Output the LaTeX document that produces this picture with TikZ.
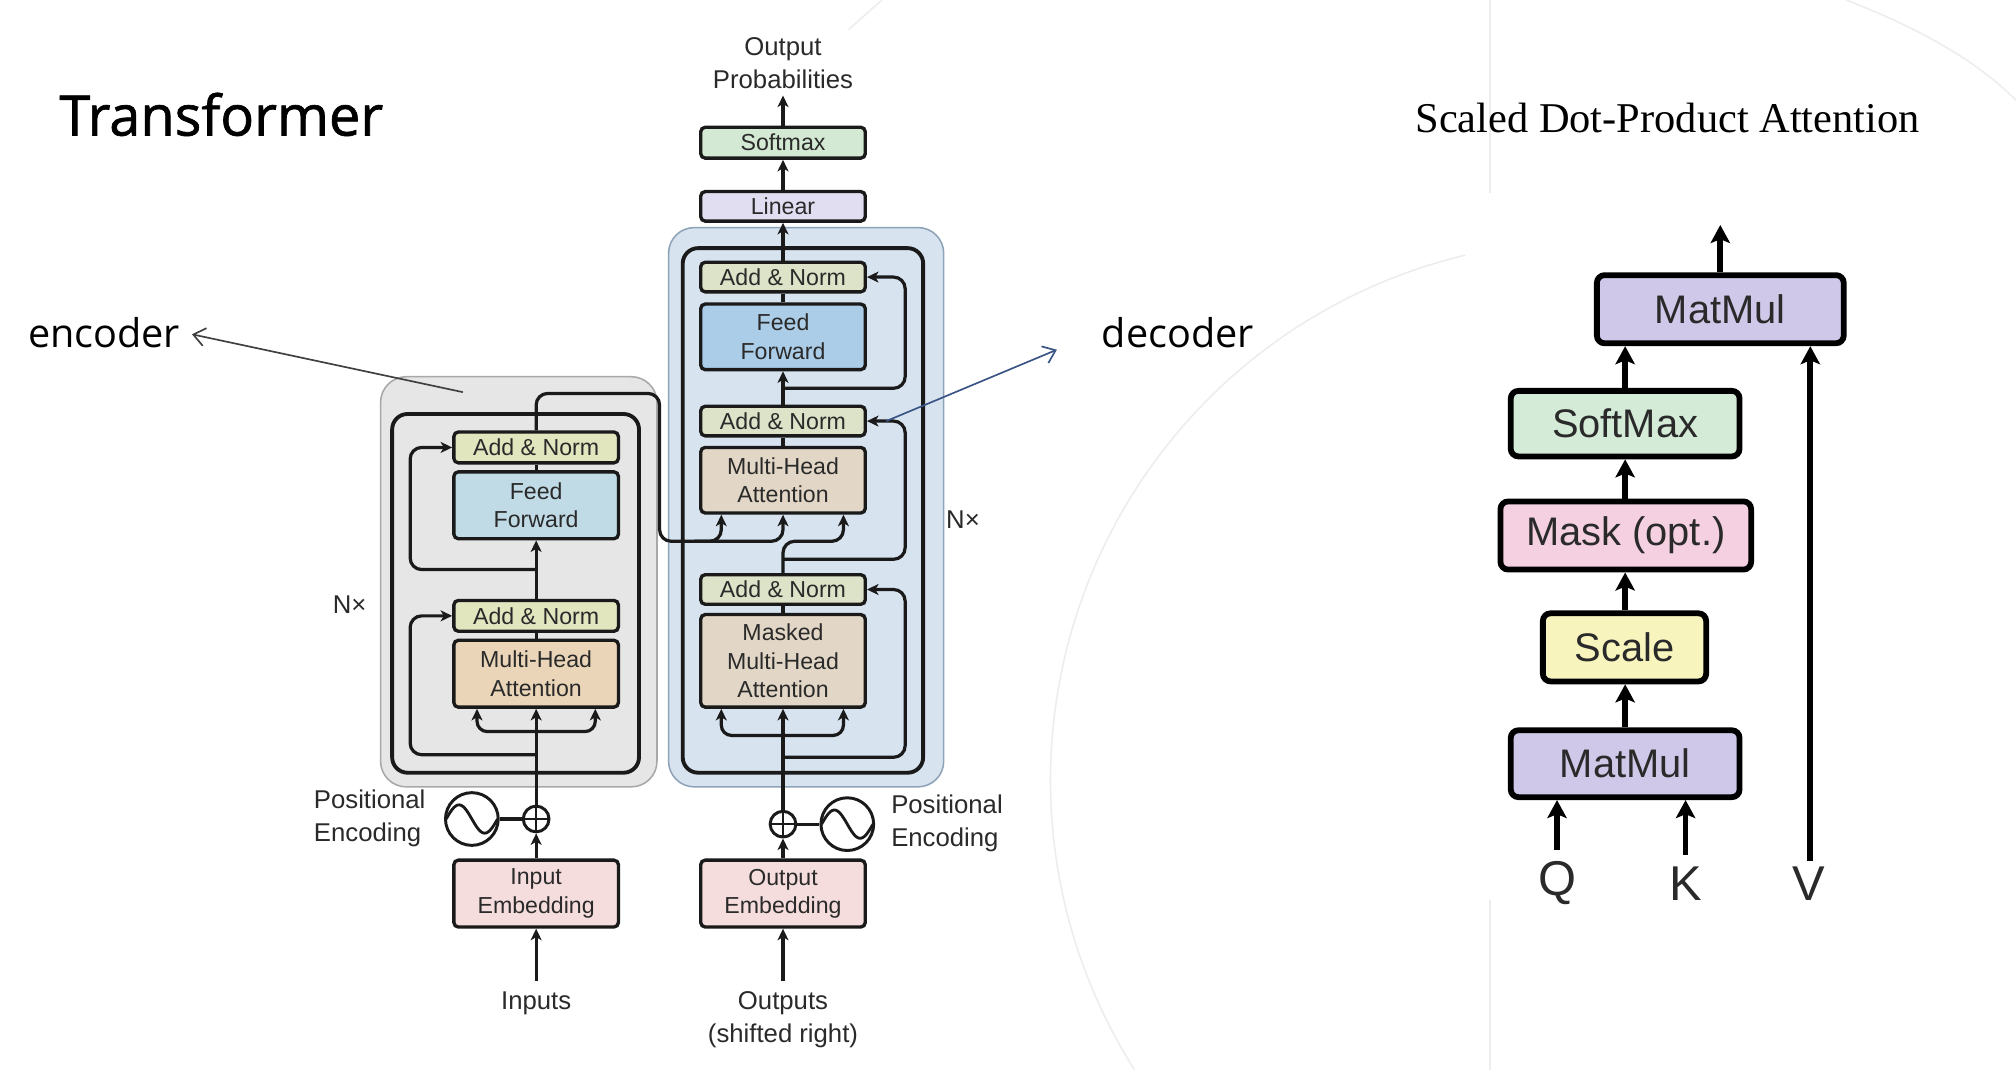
\documentclass[tikz,border=0pt]{standalone}
\usepackage{fontspec}
\setmainfont{Liberation Sans}
\newfontfamily\seriffont{Liberation Serif}
\newfontfamily\titlefont[FakeBold=1.2]{Open Sans}
\newfontfamily\pointfont{Open Sans}
\usetikzlibrary{arrows.meta}
\definecolor{lc}{HTML}{1A1A1A}
\definecolor{tc}{HTML}{2A2A2A}
\definecolor{anE}{HTML}{E2E6BF}
\definecolor{ffE}{HTML}{C0DAE6}
\definecolor{mhE}{HTML}{EAD5B8}
\definecolor{anD}{HTML}{DDE3C8}
\definecolor{ffD}{HTML}{ABCDE8}
\definecolor{mhD}{HTML}{E2D7C6}
\definecolor{embC}{HTML}{F5DDDD}
\definecolor{linC}{HTML}{E2DEF2}
\definecolor{smxC}{HTML}{D3E9D3}
\definecolor{encBg}{HTML}{E6E6E6}
\definecolor{encBd}{HTML}{A8A8A8}
\definecolor{decBg}{HTML}{D7E3EF}
\definecolor{decBd}{HTML}{8FA3B8}
\definecolor{mmC}{HTML}{D0C8E8}
\definecolor{smC}{HTML}{D3EBD7}
\definecolor{mkC}{HTML}{F4D0E1}
\definecolor{scC}{HTML}{F8F4BE}
\definecolor{ptrBlue}{HTML}{3A5585}
\begin{document}
\begin{tikzpicture}[x=1pt,y=-1pt,
 blk/.style={draw=lc, line width=2.6pt, rounded corners=3.5pt, minimum width=128pt, inner sep=0pt, text=tc, font=\fontsize{18}{22}\selectfont, align=center},
 ln/.style={draw=lc, line width=2.5pt, rounded corners=9pt},
 arr/.style={ln, -{Stealth[length=9pt,width=8.5pt,inset=2.5pt]}},
 lbl/.style={font=\fontsize{20}{26}\selectfont, text=tc, align=center, inner sep=0pt},
 circ/.style={draw=lc, line width=2.3pt, circle, inner sep=0pt},
 ablk/.style={draw=black, line width=4.5pt, rounded corners=6pt, minimum height=52pt, inner sep=0pt, text=tc, font=\fontsize{31}{36}\selectfont},
 aarr/.style={draw=black, line width=4.5pt, -{Stealth[length=14pt,width=15pt,inset=3pt]}},
 qkv/.style={font=\fontsize{38}{40}\selectfont, text=tc, inner sep=0pt},
 ptr/.style={line width=1.3pt, -{Straight Barb[length=9pt,width=14pt]}},
 faint/.style={draw=black!7, line width=1.2pt}
]
\useasboundingbox (0,0) rectangle (1568,832);
\fill[white] (0,0) rectangle (1568,832);

% faint background strokes
\draw[faint] plot[domain=147.6:256.6, samples=90] ({1237+420*cos(\x)},{607+420*sin(\x)});
\draw[faint] (1159,0) -- (1159,150);
\draw[faint] (1159,700) -- (1159,832);
\draw[faint] (1436,0) .. controls (1500,25) and (1540,50) .. (1568,78);
\draw[faint] (660,23) -- (686,0);

% titles
\node[font=\titlefont\fontsize{43.5}{48}\selectfont, anchor=west, inner sep=0pt] (title) at (46,89) {Transformer};
\node[font=\seriffont\fontsize{33}{36}\selectfont, inner sep=0pt] (atitle) at (1297,92) {Scaled Dot-Product Attention};
\node[font=\pointfont\fontsize{30.8}{34}\selectfont, inner sep=0pt] (encLbl) at (81,259) {encoder};
\node[font=\pointfont\fontsize{30.8}{34}\selectfont, inner sep=0pt] (decLbl) at (916,259) {decoder};

% outer boxes
\draw[fill=encBg, draw=encBd, line width=1.2pt, rounded corners=20pt] (296,293) rectangle (511,612);
\draw[draw=lc, line width=3pt, rounded corners=12pt] (305,322) rectangle (497,601);
\draw[fill=decBg, draw=decBd, line width=1.2pt, rounded corners=20pt] (520,177) rectangle (734,612);
\draw[draw=lc, line width=3pt, rounded corners=12pt] (531,193) rectangle (718,601);

% encoder blocks
\node[blk, fill=anE, minimum height=24pt] (encAN2) at (417,348) {Add \& Norm};
\node[blk, fill=ffE, minimum height=52pt] (encFF) at (417,393) {Feed\\Forward};
\node[blk, fill=anE, minimum height=24pt] (encAN1) at (417,479) {Add \& Norm};
\node[blk, fill=mhE, minimum height=52pt] (encMHA) at (417,524) {Multi-Head\\Attention};
\node[blk, fill=embC, minimum height=52pt] (inEmb) at (417,695) {Input\\Embedding};
\node[circ, minimum size=20pt] (encPlus) at (417,637) {};
\node[circ, minimum size=41pt] (encSin) at (367,637) {};
\draw[lc, line width=2pt] (encPlus.north) -- (encPlus.south) (encPlus.west) -- (encPlus.east);
\draw[lc, line width=2.2pt] plot[domain=-20:20, samples=40] ({367+\x},{637+11*sin(9*\x)});

% decoder blocks
\node[blk, fill=anD, minimum height=23pt] (decAN3) at (609,215.5) {Add \& Norm};
\node[blk, fill=ffD, minimum height=51pt] (decFF) at (609,262) {Feed\\Forward};
\node[blk, fill=anD, minimum height=23pt] (decAN2) at (609,327.5) {Add \& Norm};
\node[blk, fill=mhD, minimum height=51pt] (decMHA) at (609,373.5) {Multi-Head\\Attention};
\node[blk, fill=anD, minimum height=23pt] (decAN1) at (609,458.5) {Add \& Norm};
\node[blk, fill=mhD, minimum height=72pt] (decMMHA) at (609,514) {Masked\\Multi-Head\\Attention};
\node[blk, fill=embC, minimum height=52pt] (outEmb) at (609,695) {Output\\Embedding};
\node[blk, fill=linC, minimum height=23pt] (linear) at (609,160.5) {Linear};
\node[blk, fill=smxC, minimum height=24pt] (softmax) at (609,111) {Softmax};
\node[circ, minimum size=20pt] (decPlus) at (609,641) {};
\node[circ, minimum size=41pt] (decSin) at (659,641) {};
\draw[lc, line width=2pt] (decPlus.north) -- (decPlus.south) (decPlus.west) -- (decPlus.east);
\draw[lc, line width=2.2pt] plot[domain=-20:20, samples=40] ({659+\x},{641+11*sin(9*\x)});

% labels
\node[lbl] (outProb) at (609,49) {Output\\Probabilities};
\node[lbl] (inputs) at (417,780) {Inputs};
\node[lbl] (outputs) at (609,793) {Outputs\\(shifted right)};
\node[lbl, align=left, anchor=west] (encPE) at (244,636.5) {Positional\\Encoding};
\node[lbl, align=left, anchor=west] (decPE) at (693,640.5) {Positional\\Encoding};
\node[lbl] (encN) at (272,470) {N×};
\node[lbl] (decN) at (749,404) {N×};

% junction coordinates
\coordinate (eIn) at (417,569);
\coordinate (eR1) at (417,587);
\coordinate (eR2) at (417,443);
\coordinate (eTop) at (417,306);
\coordinate (eJ) at (540,421);
\coordinate (dIn) at (609,572);
\coordinate (dR1) at (609,589);
\coordinate (dR2) at (609,435);
\coordinate (dR3) at (609,302);

% encoder connectors
\draw[arr, shorten <=8pt] (inputs.north) -- (inEmb.south);
\draw[arr] (inEmb.north) -- (encPlus.south);
\draw[ln] (encSin.east) -- (encPlus.west);
\draw[arr] (encPlus.north) -- (encMHA.south);
\draw[arr, rounded corners=8pt] (eIn) -- (371,569) -- ([xshift=-46pt]encMHA.south);
\draw[arr, rounded corners=8pt] (eIn) -- (463,569) -- ([xshift=46pt]encMHA.south);
\draw[arr] (eR1) -- (319,587) -- (319,479) -- (encAN1.west);
\draw[ln] (encMHA.north) -- (encAN1.south);
\draw[arr] (encAN1.north) -- (encFF.south);
\draw[arr] (eR2) -- (319,443) -- (319,348) -- (encAN2.west);
\draw[ln] (encFF.north) -- (encAN2.south);
\draw[arr] (encAN2.north) -- (eTop) -- (513,306) -- (513,421) -- (561,421) -- ([xshift=-48pt]decMHA.south);
\draw[arr] (eJ) -- (609,421) -- (decMHA.south);

% decoder connectors
\draw[arr, shorten <=8pt] (outputs.north) -- (outEmb.south);
\draw[arr] (outEmb.north) -- (decPlus.south);
\draw[ln] (decSin.west) -- (decPlus.east);
\draw[arr] (decPlus.north) -- (decMMHA.south);
\draw[arr, rounded corners=8pt] (dIn) -- (561,572) -- ([xshift=-48pt]decMMHA.south);
\draw[arr, rounded corners=8pt] (dIn) -- (656,572) -- ([xshift=47pt]decMMHA.south);
\draw[arr] (dR1) -- (704,589) -- (704,458.5) -- (decAN1.east);
\draw[ln] (decMMHA.north) -- (decAN1.south);
\draw[arr] (decAN1.north) -- (609,421) -- (656,421) -- ([xshift=47pt]decMHA.south);
\draw[arr] (dR2) -- (704,435) -- (704,327.5) -- (decAN2.east);
\draw[ln] (decMHA.north) -- (decAN2.south);
\draw[arr] (decAN2.north) -- (decFF.south);
\draw[arr] (dR3) -- (704,302) -- (704,215.5) -- (decAN3.east);
\draw[ln] (decFF.north) -- (decAN3.south);
\draw[arr] (decAN3.north) -- (linear.south);
\draw[arr] (linear.north) -- (softmax.south);
\draw[arr, shorten >=5pt] (softmax.north) -- (outProb.south);

% pointers
\coordinate (encFrom) at (360,305);
\coordinate (decTip) at (822,272);
\draw[ptr, draw=black!75] (encFrom) -- ([xshift=9pt,yshift=-1pt]encLbl.east);
\draw[ptr, draw=ptrBlue] ([xshift=15pt]decAN2.east) -- (decTip);

% scaled dot-product attention
\node[ablk, fill=mmC, minimum width=192pt, minimum height=53pt] (aMM2) at (1338,240.5) {MatMul};
\node[ablk, fill=smC, minimum width=178pt, minimum height=51pt] (aSM) at (1264,329.5) {SoftMax};
\node[ablk, fill=mkC, minimum width=195pt, minimum height=53pt] (aMask) at (1264.5,416.5) {Mask (opt.)};
\node[ablk, fill=scC, minimum width=127pt, minimum height=53pt] (aScale) at (1263.5,503.5) {Scale};
\node[ablk, fill=mmC, minimum width=178pt, minimum height=52pt] (aMM1) at (1264,594) {MatMul};
\node[qkv] (Q) at (1211,687) {Q};
\node[qkv] (K) at (1311,687) {K};
\node[qkv] (V) at (1407,687) {V};
\coordinate (aOut) at (1338,175);
\draw[aarr] (aMM1.north) -- (aMM1.north |- aScale.south);
\draw[aarr] (aScale.north -| aMM1.north) -- (aMM1.north |- aMask.south);
\draw[aarr] (aMask.north -| aMM1.north) -- (aMM1.north |- aSM.south);
\draw[aarr] (aSM.north -| aMM1.north) -- (aMM1.north |- aMM2.south);
\draw[aarr] (aMM2.north) -- (aOut);
\draw[aarr, shorten <=9pt] (Q.north) -- (Q.north |- aMM1.south);
\draw[aarr, shorten <=9pt] (K.north) -- (K.north |- aMM1.south);
\draw[aarr, shorten <=4pt] ([xshift=1pt]V.north) -- ([xshift=1pt]V.north |- aMM2.south);
\end{tikzpicture}
\end{document}
